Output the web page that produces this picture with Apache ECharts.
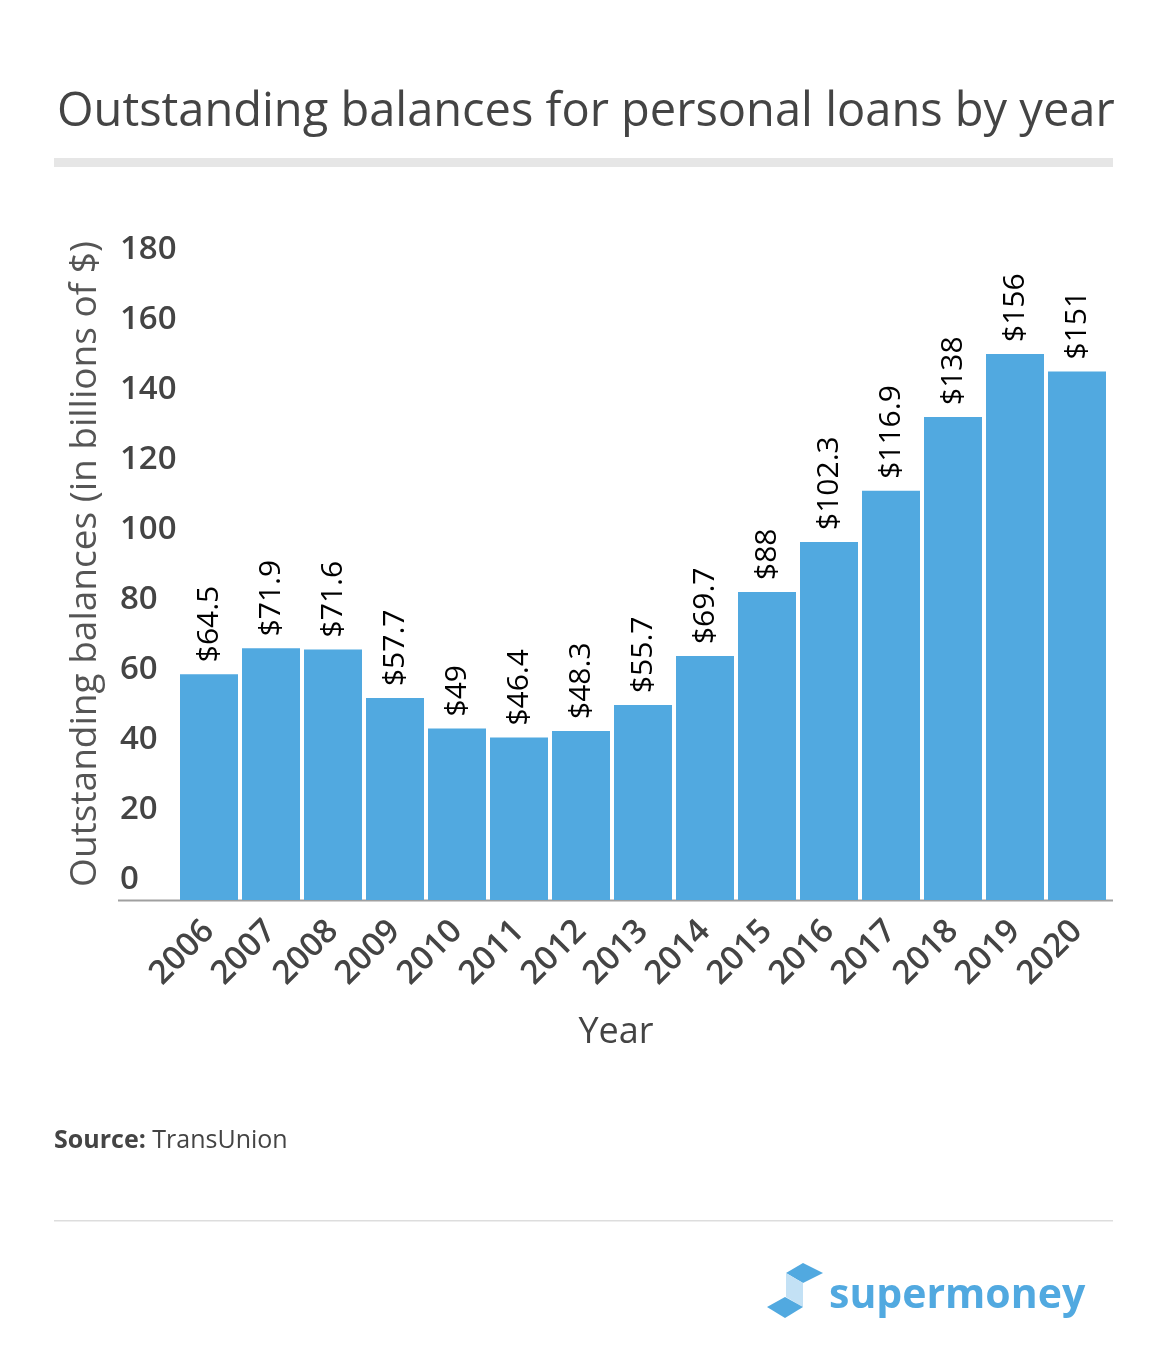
<!DOCTYPE html>
<html>
<head>
<meta charset="utf-8">
<script src="https://cdn.jsdelivr.net/npm/echarts@6/dist/echarts.min.js"></script>
<style>
html,body{margin:0;padding:0;background:#fff;}
#chart{width:1170px;height:1358px;}
</style>
</head>
<body>
<div id="chart"></div>
<script>
var years = ['2006','2007','2008','2009','2010','2011','2012','2013','2014','2015','2016','2017','2018','2019','2020'];
var balances = [64.5, 71.9, 71.6, 57.7, 49, 46.4, 48.3, 55.7, 69.7, 88, 102.3, 116.9, 138, 156, 151];
var yTicks = {min: 0, max: 180, interval: 20};

var titleText = 'Outstanding balances for personal loans by year';
var yName = 'Outstanding balances (in billions of $)';
var xName = 'Year';

var BLUE = '#51a9e0';
var DARK = '#444444';
var FONT = '"Open Sans", "Noto Sans", sans-serif';

var chart = echarts.init(document.getElementById('chart'), null, {renderer: 'canvas'});
chart.setOption({
  backgroundColor: '#ffffff',
  animation: false,
  title: {
    text: titleText,
    left: 52, top: 84,
    textStyle: {fontFamily: FONT, fontSize: 47, fontWeight: 'normal', color: DARK}
  },
  grid: {left: 178, right: 62, top: 270, bottom: 458, containLabel: false},
  xAxis: {
    type: 'category',
    data: years,
    axisLine: {show: false},
    axisTick: {show: false},
    axisLabel: {rotate: 45, margin: 26, fontSize: 33, fontWeight: 600, color: DARK, fontFamily: FONT}
  },
  yAxis: {
    type: 'value',
    min: yTicks.min, max: yTicks.max, interval: yTicks.interval,
    splitLine: {show: false},
    axisLine: {show: false},
    axisTick: {show: false},
    axisLabel: {
      align: 'left', margin: 58, fontSize: 33, fontWeight: 600, color: DARK, fontFamily: FONT,
      verticalAlign: 'bottom', lineHeight: 40
    }
  },
  series: [{
    type: 'bar',
    data: balances,
    barWidth: 58,
    itemStyle: {color: BLUE},
    label: {
      show: true, position: 'top', rotate: 90, align: 'left', verticalAlign: 'middle', distance: 12,
      formatter: function (p) { return '$' + p.value; },
      fontSize: 30, color: '#000', fontFamily: FONT
    }
  }],
  graphic: [
    {type: 'rect', shape: {x: 54, y: 158, width: 1059, height: 9}, style: {fill: '#e6e6e6'}, silent: true},
    {type: 'line', shape: {x1: 118, y1: 900.5, x2: 1113, y2: 900.5}, style: {stroke: '#a0a0a0', lineWidth: 2}, silent: true},
    {type: 'text', x: 85, y: 564, rotation: Math.PI / 2,
      style: {text: yName, fontSize: 37, fontFamily: FONT, fill: '#555', textAlign: 'center', textVerticalAlign: 'middle'}},
    {type: 'text', x: 616, y: 1033,
      style: {text: xName, fontSize: 36, fontFamily: FONT, fill: DARK, textAlign: 'center', textVerticalAlign: 'middle'}},
    {type: 'text', x: 54, y: 1141,
      style: {rich: {b: {fontWeight: 'bold', fontSize: 25, fontFamily: FONT, fill: DARK}, r: {fontSize: 25, fontFamily: FONT, fill: DARK}},
        text: '{b|Source: }{r|TransUnion}', textVerticalAlign: 'middle'}},
    {type: 'rect', shape: {x: 54, y: 1220, width: 1059, height: 1.5}, style: {fill: '#dddddd'}, silent: true},
    {type: 'polygon', shape: {points: [[786,1273],[803,1263],[823,1273],[803,1283]]}, style: {fill: BLUE}},
    {type: 'polygon', shape: {points: [[786,1273],[803,1283],[803,1307],[786,1297]]}, style: {fill: '#c3e1f5'}},
    {type: 'polygon', shape: {points: [[767,1307],[785,1297],[803,1307],[785,1318]]}, style: {fill: BLUE}},
    {type: 'text', x: 829, y: 1296,
      style: {text: 'supermoney', fontSize: 41, fontWeight: 'bold', fontFamily: FONT, fill: BLUE, textVerticalAlign: 'middle'}}
  ]
});
</script>
</body>
</html>
